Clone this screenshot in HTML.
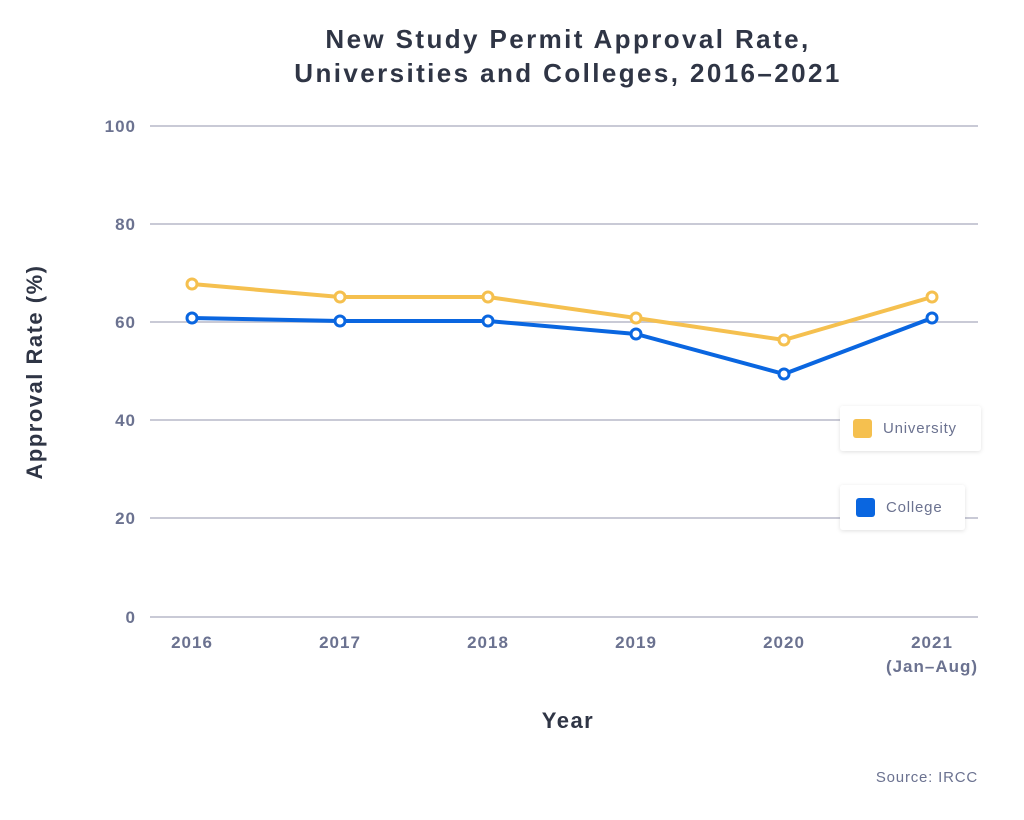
<!DOCTYPE html>
<html><head><style>
body{margin:0;background:#fff;}
svg text{font-family:"Liberation Sans",sans-serif;}
</style></head><body>
<svg width="1024" height="815" xmlns="http://www.w3.org/2000/svg">
<defs><filter id="sh" x="-20%" y="-20%" width="140%" height="140%"><feDropShadow dx="0" dy="1" stdDeviation="2" flood-color="#000" flood-opacity="0.12"/></filter></defs>
<text x="568" y="48" text-anchor="middle" font-size="26" font-weight="bold" fill="#2f3545" letter-spacing="2.4">New Study Permit Approval Rate,</text>
<text x="568" y="82" text-anchor="middle" font-size="26" font-weight="bold" fill="#2f3545" letter-spacing="2.4">Universities and Colleges, 2016–2021</text>
<g stroke="#c9cad6" stroke-width="2">
<line x1="150" y1="126" x2="978" y2="126"/><line x1="150" y1="224" x2="978" y2="224"/>
<line x1="150" y1="322" x2="978" y2="322"/><line x1="150" y1="420" x2="978" y2="420"/>
<line x1="150" y1="518" x2="978" y2="518"/><line x1="150" y1="617" x2="978" y2="617"/>
</g>
<g font-size="17" font-weight="bold" fill="#6b7290" text-anchor="end" letter-spacing="1">
<text x="136" y="132">100</text><text x="136" y="230">80</text><text x="136" y="328">60</text>
<text x="136" y="426">40</text><text x="136" y="524">20</text><text x="136" y="623">0</text>
</g>
<g font-size="17" font-weight="bold" fill="#6b7290" text-anchor="middle" letter-spacing="1">
<text x="192" y="648">2016</text><text x="340" y="648">2017</text><text x="488" y="648">2018</text>
<text x="636" y="648">2019</text><text x="784" y="648">2020</text><text x="932" y="648">2021</text>
<text x="932" y="672">(Jan–Aug)</text>
</g>
<text x="568" y="728" text-anchor="middle" font-size="22" font-weight="bold" fill="#2f3545" letter-spacing="1.5">Year</text>
<text transform="translate(42,372) rotate(-90)" text-anchor="middle" font-size="22" font-weight="bold" fill="#2f3545" letter-spacing="1.5">Approval Rate (%)</text>
<text x="978" y="782" text-anchor="end" font-size="15" fill="#6b7290" letter-spacing="0.8">Source:  IRCC</text>
<polyline fill="none" stroke="#f5c04f" stroke-width="4" points="192,284 340,297 488,297 636,318 784,340 932,297"/>
<polyline fill="none" stroke="#0a66e0" stroke-width="4" points="192,318 340,321 488,321 636,334 784,374 932,318"/>
<g fill="#fff" stroke="#f5c04f" stroke-width="3">
<circle cx="192" cy="284" r="5"/><circle cx="340" cy="297" r="5"/><circle cx="488" cy="297" r="5"/>
<circle cx="636" cy="318" r="5"/><circle cx="784" cy="340" r="5"/><circle cx="932" cy="297" r="5"/>
</g>
<g fill="#fff" stroke="#0a66e0" stroke-width="3">
<circle cx="192" cy="318" r="5"/><circle cx="340" cy="321" r="5"/><circle cx="488" cy="321" r="5"/>
<circle cx="636" cy="334" r="5"/><circle cx="784" cy="374" r="5"/><circle cx="932" cy="318" r="5"/>
</g>
<rect x="840" y="406" width="141" height="45" rx="3" fill="#fff" filter="url(#sh)"/>
<rect x="853" y="419" width="19" height="19" rx="3" fill="#f5c04f"/>
<text x="883" y="433" font-size="15" fill="#6b7290" letter-spacing="0.8">University</text>
<rect x="840" y="485" width="125" height="45" rx="3" fill="#fff" filter="url(#sh)"/>
<rect x="856" y="498" width="19" height="19" rx="3" fill="#0a66e0"/>
<text x="886" y="512" font-size="15" fill="#6b7290" letter-spacing="0.8">College</text>
</svg>
</body></html>
